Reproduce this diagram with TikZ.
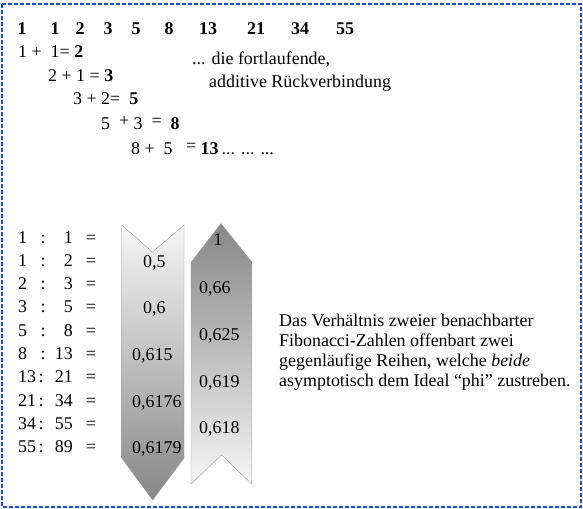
\documentclass[tikz,border=0pt]{standalone}
\usepackage{fontspec}
\setmainfont{Liberation Serif}
\definecolor{rahmenblau}{RGB}{25,75,220}
\definecolor{bandhell}{RGB}{246,246,246}
\definecolor{banddunkel}{RGB}{135,135,135}

\begin{document}
\begin{tikzpicture}[x=1bp, y=-1bp, inner sep=0pt]
            \fontsize{18}{20}\selectfont
            \useasboundingbox (0,0) rectangle (583,509);
            \draw[draw=rahmenblau, line width=1.5bp, dash pattern=on 4bp off 2bp] (2,4) rectangle (581,507);
            % Fibonacci-Folge
            \foreach \z/\xp [count=\i] in {1/22, 1/55, 2/80, 3/108, 5/136, 8/169, 13/208, 21/256, 34/300, 55/345}
                \node[anchor=base] (fib\i) at (\xp,35) {\bfseries\z};
            \node[anchor=base west] (sum1) at (18,58) {1 + \ 1= \textbf{2}};
            \node[anchor=base west] (sum2) at (48,82) {2 + 1 = \textbf{3}};
            \node[anchor=base west] (sum3) at (73,105) {3 + 2= \ \textbf{5}};
            \node[anchor=base west] (sum4) at (101,130) {5 \ \raisebox{3bp}{+} 3 \ \raisebox{3bp}{=} \ \textbf{8}};
            \node[anchor=base west] (sum5) at (131,155) {8 + \ 5 \ \ \raisebox{3bp}{=} \textbf{13}\,... ... ...};
            \node[anchor=base west] (rueck1) at (192,65) {... die fortlaufende,};
            \node[anchor=base west] (rueck2) at (209,88) {additive Rückverbindung};
            % Verhaeltnisse
            \foreach \a/\b/\xk [count=\i] in {1/1/43, 1/2/43, 2/3/43, 3/5/43, 5/8/43, 8/13/43, 13/21/41, 21/34/41, 34/55/41, 55/89/41} {
                \node[anchor=base west] (zaehler\i) at (18,{243+23.33*(\i-1)}) {\a};
                \node[anchor=base] (dp\i) at (\xk,{243+23.33*(\i-1)}) {:};
                \node[anchor=base east] (nenner\i) at (73,{243+23.33*(\i-1)}) {\b};
                \node[anchor=base] (gl\i) at (91,{243+23.33*(\i-1)}) {=};
            }
            % die beiden Baender
            \shadedraw[draw=gray!80, top color=bandhell, bottom color=banddunkel]
                (121.7,225) -- (152.5,252) -- (184,225) -- (184,458) -- (152.7,500) -- (121.7,458) -- cycle;
            \shadedraw[draw=gray!80, top color=banddunkel, bottom color=bandhell]
                (221,223.5) -- (251.7,262) -- (251.7,484) -- (221.5,455) -- (191,484) -- (191,262.5) -- cycle;
            \node[anchor=base west] (links1) at (143,267) {0,5};
            \node[anchor=base west] (links2) at (143,313) {0,6};
            \node[anchor=base west] (links3) at (132,360) {0,615};
            \node[anchor=base west] (links4) at (132,407) {0,6176};
            \node[anchor=base west] (links5) at (132,453) {0,6179};
            \node[anchor=base] (rechts1) at (218,245) {1};
            \node[anchor=base west] (rechts2) at (199,293) {0,66};
            \node[anchor=base west] (rechts3) at (199,340) {0,625};
            \node[anchor=base west] (rechts4) at (199,387) {0,619};
            \node[anchor=base west] (rechts5) at (199,433) {0,618};
            \node[anchor=north west, align=left, font=\fontsize{18}{20}\selectfont] (text) at (279,314)
                {Das Verhältnis zweier benachbarter\\Fibonacci-Zahlen offenbart zwei\\gegenläufige Reihen, welche \textit{beide}\\asymptotisch dem Ideal “phi” zustreben.};
        \end{tikzpicture}
\end{document}
